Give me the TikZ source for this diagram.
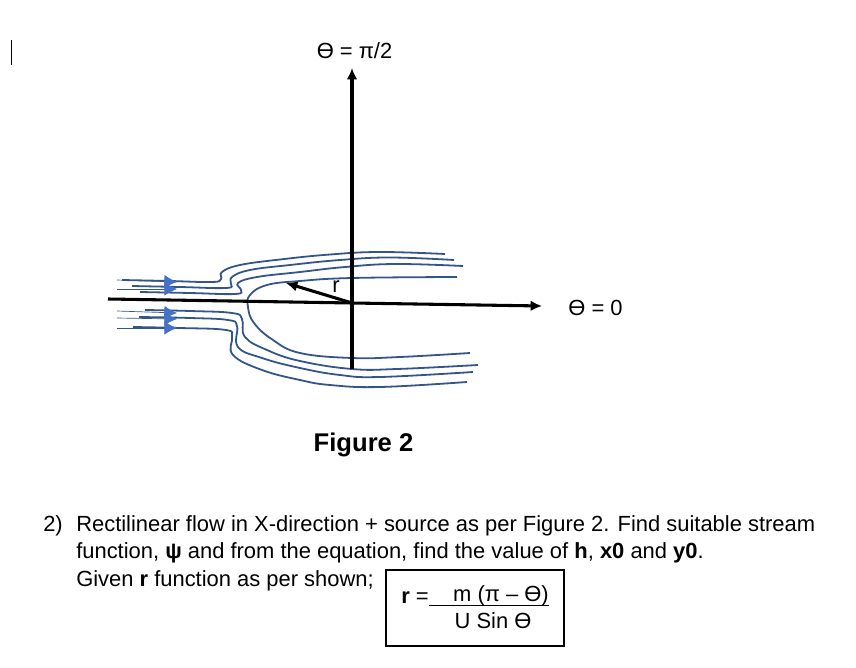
\documentclass[tikz,border=0pt]{standalone}
\usepackage{fontspec}
\setmainfont{Liberation Sans}
\usetikzlibrary{arrows.meta}
\definecolor{streamblue}{HTML}{34558A}
\definecolor{arrowblue}{HTML}{4472C4}
\tikzset{every node/.style={inner sep=0pt,font=\fontsize{16.45}{20}\selectfont},
  axisline/.style={line width=2.3pt,black},
  axistip/.style={-{Latex[length=8.5pt,width=8pt]}},
  streamline/.style={line width=1.35pt,streamblue,smooth,tension=0.7},
  inflow/.style={line width=0.5pt,streamblue,-{Latex[length=9.5pt,width=10pt,arrowblue]}},
  textline/.style={anchor=base west}}

\begin{document}
\begin{tikzpicture}[x=0.75pt,y=-0.75pt]
      \useasboundingbox (0,0) rectangle (856,667);
      \coordinate (O) at (352,303);
      \coordinate (xstart) at (108,299);
      \coordinate (xend) at (542,306);
      \coordinate (ystart) at (352,369);
      \coordinate (yend) at (352,68);
      \coordinate (rend) at (286,283);

      \node (thetahalf) at (354.5,51) {ϴ = π/2};
      \node (thetazero) at (595.5,308) {ϴ = 0};
      \node (rlabel) at (336,287) {r};
      \node[font=\fontsize{19.2}{23}\selectfont\bfseries] (figlabel) at (363.5,445) {Figure 2};

      \draw[streamline] plot coordinates {(122,280) (170,281) (212,282) (221,279) (222,272) (240,265) (280,259.5) (330,254.5) (380,252) (445,254)};
      \draw[streamline] plot coordinates {(132,286) (180,287) (226,288) (231,284) (232,277) (250,270) (290,265) (340,260) (390,257.5) (454,260)};
      \draw[streamline] plot coordinates {(140,292) (190,293) (235,294) (241,290) (238,283) (257,277) (300,272) (345,267) (395,264) (463,266)};
      \draw[streamline] plot coordinates {(457,277) (352,278) (300,281) (267,285) (250,295) (248,307) (254,323) (273,340) (300,353) (352,358) (400,357) (470,353)};
      \draw[streamline] plot coordinates {(145,310) (190,311) (232,313) (242,319) (245,337) (267,350) (300,361) (352,369) (397,369) (478,365)};
      \draw[streamline] plot coordinates {(139,317) (190,318) (228,320) (237,326) (238,347) (262,358) (300,368) (340,375) (380,377) (473,372)};
      \draw[streamline] plot coordinates {(133,327) (180,328) (226,330) (232,337) (233,355) (262,370) (300,380) (330,385) (380,387) (467,382)};

      \draw[inflow] (117,280) -- (177,282);
      \draw[inflow] (117,289) -- (177,289);
      \draw[inflow] (117,311) -- (177,313);
      \draw[inflow] (117,318) -- (177,319);
      \draw[inflow] (117,328) -- (177,328);

      \draw[axisline] (xstart) -- (O);
      \draw[axisline,axistip] (O) -- (xend);
      \draw[axisline,axistip] (ystart) -- (yend);
      \draw[axisline,axistip] (O) -- (rend);

      \draw[line width=0.5pt] (11,40) -- (11,65);

      \node[textline] (itemno) at (43,531) {2)};
      \node[textline] (lineone) at (76,531) {Rectilinear flow in X-direction + source as per Figure 2. Find suitable stream};
      \node[textline] (linetwo) at (76,558) {function, \textbf{ψ} and from the equation, find the value of \textbf{h}, \textbf{x0} and \textbf{y0}.};
      \node[textline] (linethree) at (76,586) {Given \textbf{r} function as per shown;};

      \node[draw,line width=1.3pt,minimum width=133.5pt,minimum height=57pt] (rbox) at (475,608) {};
      \node[textline] (req) at (401,603) {\textbf{r} =};
      \node (numer) at (501,596) {m (π – ϴ)};
      \node (denom) at (493,621) {U Sin ϴ};
      \coordinate (fracleft) at (429,605.5);
      \coordinate (fracright) at (549,605.5);
      \draw[line width=1.1pt] (fracleft) -- (fracright);
    \end{tikzpicture}
\end{document}
